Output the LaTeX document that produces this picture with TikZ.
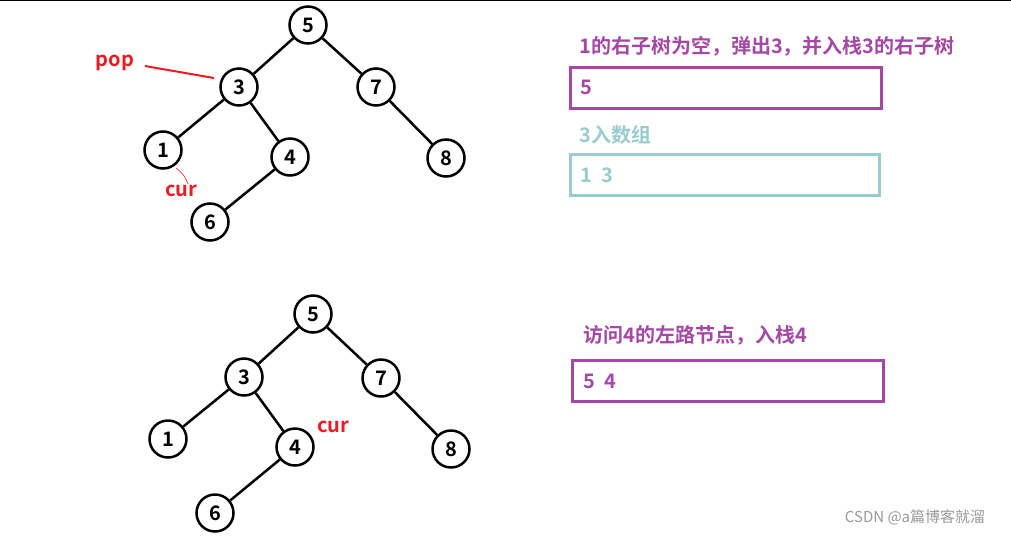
\documentclass[tikz,border=0pt]{standalone}
\usepackage{fontspec}
\setmainfont{Noto Sans CJK SC}[BoldFont={* Bold}]
\definecolor{pur}{HTML}{A349A4}
\definecolor{teal2}{HTML}{99CCCC}
\definecolor{red2}{HTML}{ED1C24}
\begin{document}
\begin{tikzpicture}[x=1pt,y=-1pt,
  tn/.style={circle,draw,line width=2.5pt,minimum size=37pt,inner sep=0pt,font=\fontsize{20}{20}\selectfont\bfseries},
  ed/.style={line width=2.5pt},
  box/.style={draw,line width=2.5pt,minimum height=41pt,minimum width=311pt,anchor=north west,inner sep=0pt},
  lbl/.style={font=\fontsize{20}{20}\selectfont\bfseries,anchor=west,inner sep=0pt}]
\useasboundingbox (0,0) rectangle (1011,536);
\draw[line width=1pt] (0,0.5) -- (1011,0.5);
% top tree
\node[tn] (a5) at (308,25) {5};
\node[tn] (a3) at (239,87) {3};
\node[tn] (a7) at (376,87) {7};
\node[tn] (a1) at (163,150) {1};
\node[tn] (a4) at (290,157) {4};
\node[tn] (a8) at (446,158) {8};
\node[tn] (a6) at (210,222) {6};
\draw[ed] (a5)--(a3) (a5)--(a7) (a3)--(a1) (a3)--(a4) (a7)--(a8) (a4)--(a6);
\node[text=red2,font=\fontsize{20}{20}\selectfont\bfseries] (pop) at (115,63) {pop};
\coordinate (popend) at (214,78);
\draw[red2,line width=2pt] (145,66) -- (popend);
\node[text=red2,font=\fontsize{20}{20}\selectfont\bfseries] (cur1) at (181,191) {cur};
\draw[red2,line width=0.6pt] (176,168) .. controls (182,172) and (186,178) .. (188,184);
% bottom tree
\node[tn] (b5) at (313,314) {5};
\node[tn] (b3) at (244,377) {3};
\node[tn] (b7) at (381,378) {7};
\node[tn] (b1) at (168,439) {1};
\node[tn] (b4) at (295,447) {4};
\node[tn] (b8) at (451,449) {8};
\node[tn] (b6) at (215,513) {6};
\draw[ed] (b5)--(b3) (b5)--(b7) (b3)--(b1) (b3)--(b4) (b7)--(b8) (b4)--(b6);
\node[text=red2,font=\fontsize{20}{20}\selectfont\bfseries] (cur2) at (333,427) {cur};
% right panels
\node[lbl,text=pur] (t1) at (579,46) {1的右子树为空，弹出3，并入栈3的右子树};
\node[box,draw=pur] (s1) at (569,66) {};
\node[lbl,text=pur] (s1t) at (580,87) {5};
\node[lbl,text=teal2] (t2) at (579,135) {3入数组};
\node[box,draw=teal2,minimum width=309pt] (s2) at (569,153) {};
\node[lbl,text=teal2] (s2t) at (580,175) {1\ \ 3};
\node[lbl,text=pur] (t3) at (583,335) {访问4的左路节点，入栈4};
\node[box,draw=pur] (s3) at (571,359) {};
\node[lbl,text=pur] (s3t) at (583,381) {5\ \ 4};
\node[text=gray!80,font=\fontsize{15}{15}\selectfont] (wm) at (915,517) {CSDN @a篇博客就溜};
\end{tikzpicture}
\end{document}
